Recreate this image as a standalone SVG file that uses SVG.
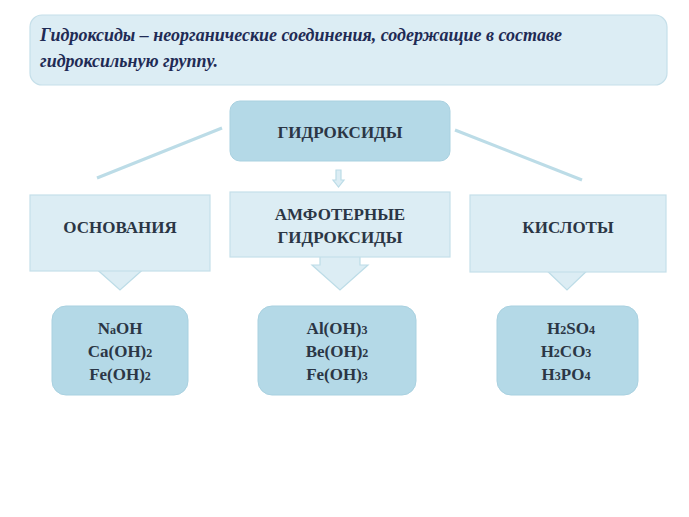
<svg xmlns="http://www.w3.org/2000/svg" width="689" height="517" viewBox="0 0 689 517">
<style>
.lt{fill:#dcedf4;stroke:#c5dfe9;stroke-width:1.2}
.dk{fill:#b4d9e7;stroke:#a9d1e0;stroke-width:1}
.t{font-family:"Liberation Serif",serif;font-weight:bold;fill:#2b3645;text-anchor:middle;font-size:17px}
.s{font-size:12px}
.ar{fill:#dcedf4;stroke:#bcdce7;stroke-width:1.2}
</style>
<rect width="689" height="517" fill="#fff"/>
<g id="definition">
<rect class="lt" x="30" y="15" width="637" height="70" rx="12"/>
<text x="40" y="41" font-family="Liberation Serif,serif" font-style="italic" font-weight="bold" font-size="18" fill="#1f2b55">Гидроксиды – неорганические соединения, содержащие в составе</text>
<text x="40" y="67" font-family="Liberation Serif,serif" font-style="italic" font-weight="bold" font-size="18" fill="#1f2b55">гидроксильную группу.</text>
</g>
<g id="root"><rect class="dk" x="230" y="101" width="220" height="60" rx="10"/><text class="t" x="340" y="138">ГИДРОКСИДЫ</text></g>
<g id="connectors">
<line x1="222" y1="128" x2="97" y2="178" stroke="#bcdce7" stroke-width="3"/>
<line x1="455" y1="130" x2="582" y2="180" stroke="#bcdce7" stroke-width="3"/>
<path class="ar" d="M336,170 h5 v10 h3 l-5.5,7 l-5.5,-7 h3 z"/>
<path class="ar" d="M100,258 h40 v7 h8 l-28,25 l-28,-25 h8 z"/>
<path class="ar" d="M320,253 h40 v12 h8 l-28,25 l-28,-25 h8 z"/>
<path class="ar" d="M547,258 h40 v7 h6 l-26,25 l-26,-25 h6 z"/>
</g>
<g id="bases"><rect class="lt" x="30" y="195" width="180" height="76"/><text class="t" x="120" y="233">ОСНОВАНИЯ</text></g>
<g id="amph"><rect class="lt" x="230" y="192" width="220" height="65"/><text class="t" x="340" y="220">АМФОТЕРНЫЕ</text><text class="t" x="340" y="243">ГИДРОКСИДЫ</text></g>
<g id="acids"><rect class="lt" x="470" y="195" width="196" height="77"/><text class="t" x="568" y="233">КИСЛОТЫ</text></g>
<g id="bases-ex"><rect class="dk" x="52" y="306" width="136" height="89" rx="14"/>
<text class="t" x="120" y="334">N<tspan class="s">a</tspan>OH</text>
<text class="t" x="120" y="357">Ca(OH)<tspan class="s">2</tspan></text>
<text class="t" x="120" y="380">Fe(OH)<tspan class="s">2</tspan></text></g>
<g id="amph-ex"><rect class="dk" x="258" y="306" width="158" height="89" rx="14"/>
<text class="t" x="337" y="334">Al(OH)<tspan class="s">3</tspan></text>
<text class="t" x="337" y="357">Be(OH)<tspan class="s">2</tspan></text>
<text class="t" x="337" y="380">Fe(OH)<tspan class="s">3</tspan></text></g>
<g id="acids-ex"><rect class="dk" x="497" y="306" width="141" height="89" rx="14"/>
<text class="t" x="571" y="334">H<tspan class="s">2</tspan>SO<tspan class="s">4</tspan></text>
<text class="t" x="566" y="357">H<tspan class="s">2</tspan>CO<tspan class="s">3</tspan></text>
<text class="t" x="566" y="380">H<tspan class="s">3</tspan>PO<tspan class="s">4</tspan></text></g>
</svg>
